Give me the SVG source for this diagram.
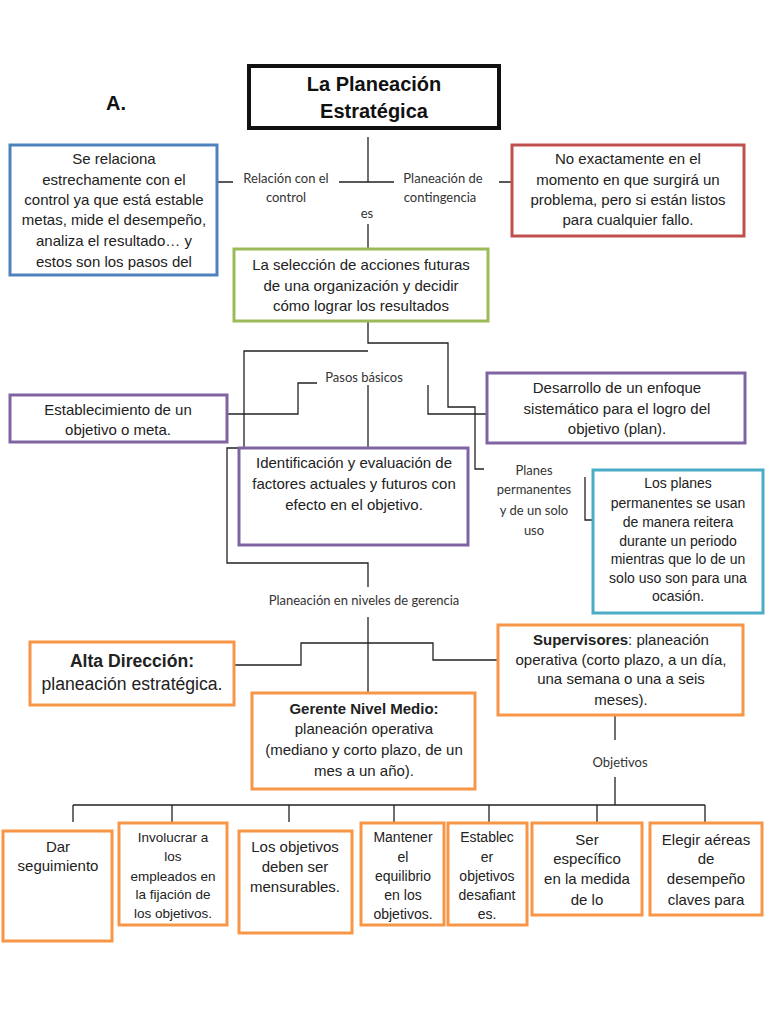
<svg xmlns="http://www.w3.org/2000/svg" width="768" height="1024" viewBox="0 0 768 1024">
<style>
.bx{fill:#fff;stroke-width:3}
.blue{stroke:#4F81BD}.red{stroke:#C0504D}.green{stroke:#9BBB59}.purple{stroke:#8064A2}.cyan{stroke:#4BACC6}.orange{stroke:#F79646}
.t{font-family:"Liberation Sans",Arial,sans-serif;font-size:15px;fill:#222;text-anchor:middle}
.s14{font-size:14px}.s135{font-size:13.5px}
.lbl{font-family:Lato,"Liberation Sans",sans-serif;font-size:13px;fill:#333;text-anchor:middle}
.big{font-family:"Liberation Sans",Arial,sans-serif;font-size:17.6px;fill:#222;text-anchor:middle}
.ttl{font-family:"Liberation Sans",Arial,sans-serif;font-size:20px;font-weight:bold;fill:#111;text-anchor:middle}
.b{font-weight:bold}
.cn{fill:none;stroke:#222;stroke-width:1.3}
</style>
<rect width="768" height="1024" fill="#fff"/>
<text x="116" y="110" font-family="Liberation Sans,Arial,sans-serif" font-size="20" font-weight="bold" fill="#111" text-anchor="middle">A.</text>
<g id="connectors" class="cn">
<path d="M368,137V182M339,182H394M217,182H233M499,182H513M368,224V249"/>
<path d="M368,321V343H448V407H475V469H484"/>
<path d="M428,385V414H487"/>
<path d="M368,351H244V448H227V563H368V587"/>
<path d="M368,385V448"/>
<path d="M317,383H298V414H227"/>
<path d="M585,477V520H593"/>
<path d="M368,617V692"/>
<path d="M235,665H301V643H433V660H498"/>
<path d="M615,715V740M615,777V805M73,805H705"/>
<path d="M73,805V822M172,805V823M289,805V822M394,805V823M489,805V823M597,805V823M705,805V823"/>
</g>
<g id="title"><rect x="249" y="66" width="250" height="62" fill="#fff" stroke="#111" stroke-width="4"/>
<text class="ttl" x="374" y="91">La Planeación</text><text class="ttl" x="374" y="118">Estratégica</text></g>
<g id="lbl-relacion"><text class="lbl" x="286" y="183">Relación con el</text><text class="lbl" x="286" y="202">control</text></g>
<g id="lbl-contingencia"><text class="lbl" x="443" y="183">Planeación de</text><text class="lbl" x="440" y="202">contingencia</text></g>
<g id="lbl-es"><text class="lbl" x="367" y="218">es</text></g>
<g id="blue"><rect class="bx blue" x="10" y="145" width="207" height="130"/>
<text class="t" x="114" y="164">Se relaciona</text><text class="t" x="114" y="185">estrechamente con el</text><text class="t" x="114" y="205">control ya que está estable</text><text class="t" x="114" y="225">metas, mide el desempeño,</text><text class="t" x="114" y="246">analiza el resultado… y</text><text class="t" x="114" y="267">estos son los pasos del</text></g>
<g id="red"><rect class="bx red" x="512" y="145" width="232" height="91"/>
<text class="t" x="628" y="164">No exactamente en el</text><text class="t" x="628" y="185">momento en que surgirá un</text><text class="t" x="628" y="205">problema, pero si están listos</text><text class="t" x="628" y="225">para cualquier fallo.</text></g>
<g id="green"><rect class="bx green" x="234" y="249" width="254" height="72"/>
<text class="t" x="361" y="270">La selección de acciones futuras</text><text class="t" x="361" y="291">de una organización y decidir</text><text class="t" x="361" y="311">cómo lograr los resultados</text></g>
<g id="lbl-pasos"><text class="lbl" x="364" y="382">Pasos básicos</text></g>
<g id="establecimiento"><rect class="bx purple" x="10" y="395" width="217" height="47"/>
<text class="t" x="118" y="415">Establecimiento de un</text><text class="t" x="118" y="435">objetivo o meta.</text></g>
<g id="desarrollo"><rect class="bx purple" x="487" y="373" width="258" height="70"/>
<text class="t" x="617" y="393">Desarrollo de un enfoque</text><text class="t" x="617" y="414">sistemático para el logro del</text><text class="t" x="617" y="434">objetivo (plan).</text></g>
<g id="identificacion"><rect class="bx purple" x="239" y="448" width="229" height="97"/>
<text class="t" x="354" y="468">Identificación y evaluación de</text><text class="t" x="354" y="489">factores actuales y futuros con</text><text class="t" x="354" y="510">efecto en el objetivo.</text></g>
<g id="lbl-planes"><text class="lbl" x="534" y="475">Planes</text><text class="lbl" x="534" y="494">permanentes</text><text class="lbl" x="534" y="515">y de un solo</text><text class="lbl" x="534" y="535">uso</text></g>
<g id="cyan"><rect class="bx cyan" x="593" y="470" width="170" height="143"/>
<text class="t s14" x="678" y="488">Los planes</text><text class="t s14" x="678" y="508">permanentes se usan</text><text class="t s14" x="678" y="527">de manera reitera</text><text class="t s14" x="678" y="546">durante un periodo</text><text class="t s14" x="678" y="564">mientras que lo de un</text><text class="t s14" x="678" y="583">solo uso son para una</text><text class="t s14" x="678" y="601">ocasión.</text></g>
<g id="lbl-niveles"><text class="lbl" x="364" y="605">Planeación en niveles de gerencia</text></g>
<g id="alta"><rect class="bx orange" x="30" y="642" width="204" height="63"/>
<text class="big b" x="132" y="667">Alta Dirección:</text><text class="big" x="132" y="690">planeación estratégica.</text></g>
<g id="gerente"><rect class="bx orange" x="252" y="693" width="223" height="96"/>
<text class="t b" x="364" y="714">Gerente Nivel Medio:</text><text class="t" x="364" y="734">planeación operativa</text><text class="t" x="364" y="755">(mediano y corto plazo, de un</text><text class="t" x="364" y="776">mes a un año).</text></g>
<g id="supervisores"><rect class="bx orange" x="498" y="625" width="245" height="90"/>
<text class="t" x="621" y="645"><tspan class="b">Supervisores</tspan>: planeación</text><text class="t" x="621" y="665">operativa (corto plazo, a un día,</text><text class="t" x="621" y="684">una semana o una a seis</text><text class="t" x="621" y="705">meses).</text></g>
<g id="lbl-objetivos"><text class="lbl" x="620" y="767">Objetivos</text></g>
<g id="dar"><rect class="bx orange" x="3" y="831" width="109" height="110"/>
<text class="t" x="58" y="852">Dar</text><text class="t" x="58" y="871">seguimiento</text></g>
<g id="involucrar"><rect class="bx orange" x="119" y="823" width="108" height="102"/>
<text class="t s135" x="173" y="842">Involucrar a</text><text class="t s135" x="173" y="861">los</text><text class="t s135" x="173" y="881">empleados en</text><text class="t s135" x="173" y="899">la fijación de</text><text class="t s135" x="173" y="918">los objetivos.</text></g>
<g id="mensurables"><rect class="bx orange" x="239" y="831" width="113" height="102"/>
<text class="t" x="295" y="852">Los objetivos</text><text class="t" x="295" y="872">deben ser</text><text class="t" x="295" y="892">mensurables.</text></g>
<g id="mantener"><rect class="bx orange" x="361" y="823" width="83" height="102"/>
<text class="t s14" x="403" y="842">Mantener</text><text class="t s14" x="403" y="862">el</text><text class="t s14" x="403" y="881">equilibrio</text><text class="t s14" x="403" y="900">en los</text><text class="t s14" x="403" y="919">objetivos.</text></g>
<g id="establecer"><rect class="bx orange" x="448" y="823" width="79" height="102"/>
<text class="t s14" x="487" y="842">Establec</text><text class="t s14" x="487" y="862">er</text><text class="t s14" x="487" y="881">objetivos</text><text class="t s14" x="487" y="900">desafiant</text><text class="t s14" x="487" y="919">es.</text></g>
<g id="ser"><rect class="bx orange" x="532" y="823" width="110" height="92"/>
<text class="t" x="587" y="845">Ser</text><text class="t" x="587" y="864">específico</text><text class="t" x="587" y="884">en la medida</text><text class="t" x="587" y="905">de lo</text></g>
<g id="elegir"><rect class="bx orange" x="650" y="823" width="112" height="92"/>
<text class="t" x="706" y="845">Elegir aéreas</text><text class="t" x="706" y="864">de</text><text class="t" x="706" y="884">desempeño</text><text class="t" x="706" y="905">claves para</text></g>
</svg>
